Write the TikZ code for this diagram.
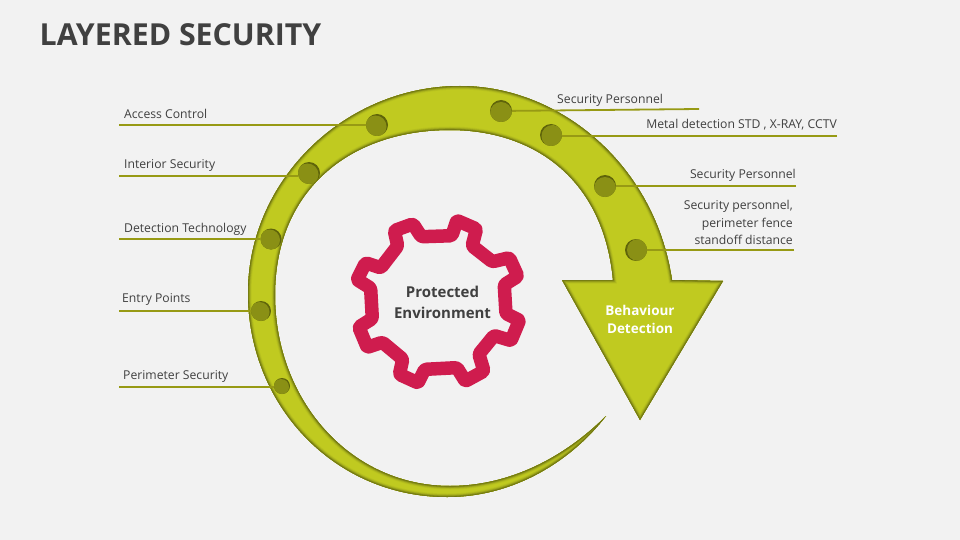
\documentclass[tikz,border=0pt]{standalone}
\usepackage{fontspec}
\setmainfont{Open Sans}
\definecolor{bgc}{HTML}{F2F2F2}
\definecolor{ringc}{HTML}{C0CA20}
\definecolor{linec}{HTML}{979A14}
\definecolor{gearc}{HTML}{CF1C4E}
\definecolor{txtc}{HTML}{404040}
\definecolor{holec}{HTML}{8A9015}
\definecolor{holed}{HTML}{5F640A}
\tikzset{
  lab/.style={inner sep=0pt,text=txtc,font=\fontsize{12.2}{17.5}\selectfont},
  link/.style={draw=linec,line width=1.8pt},
  hole/.style n args={3}{circle,inner sep=0pt,minimum size=#1*2pt,fill=holed,
    path picture={\fill[holec] ([shift={(#2pt,#3pt)}]path picture bounding box.center) circle (#1pt);}},
  gearline/.style={draw=gearc,line width=13.5pt,line join=round,rounded corners=1.5pt}
}
\newcommand{\ringshape}{(606,416)
 .. controls (572,460) and (515,497) .. (447,497)
 .. controls (335,497) and (248,406) .. (248,293)
 .. controls (248,180) and (345,86) .. (460,86)
 .. controls (560,86) and (655,165) .. (672,280)
 -- (723,281) -- (640,420) -- (562,280) -- (613,280)
 .. controls (603,175) and (530,130) .. (450,130)
 .. controls (350,130) and (275,190) .. (275,295)
 .. controls (275,400) and (350,486) .. (450,486)
 .. controls (510,486) and (565,457) .. (606,416) -- cycle}
\begin{document}
\begin{tikzpicture}[x=1pt,y=-1pt]
\useasboundingbox (0,0) rectangle (960,540);
\fill[bgc] (0,0) rectangle (960,540);
\node[anchor=west,inner sep=0pt,text=txtc,font=\fontsize{30.3}{36}\selectfont\bfseries] (title) at (39.5,35) {LAYERED SECURITY};
% ring and arrow
\begin{scope}
  \clip \ringshape;
  \fill[ringc] \ringshape;
  \draw[line width=7pt,draw=ringc!96!black] \ringshape;
  \draw[line width=5.5pt,draw=ringc!90!black] \ringshape;
  \draw[line width=4pt,draw=ringc!81!black] \ringshape;
  \draw[line width=2.6pt,draw=ringc!70!black] \ringshape;
  \draw[line width=1.2pt,draw=ringc!58!black] \ringshape;
\end{scope}
% holes
\node[hole={11}{-1.5}{-1.5}] (d1) at (377,125) {};
\node[hole={11}{-1.5}{-1.5}] (d2) at (309,173) {};
\node[hole={10.5}{-1.5}{-1}] (d3) at (271,239) {};
\node[hole={10}{-1.5}{-1}] (d4) at (261,311) {};
\node[hole={8}{-1}{-1}] (d5) at (282,386) {};
\node[hole={11}{0}{-2}] (d6) at (501,111) {};
\node[hole={11}{1.5}{-1}] (d7) at (551,135) {};
\node[hole={11}{0}{-2}] (d8) at (605,186) {};
\node[hole={11}{2}{0}] (d9) at (636,250) {};
% free ends
\coordinate (e1) at (119,125);
\coordinate (e2) at (119,176);
\coordinate (e3) at (119,239);
\coordinate (e4) at (119,311);
\coordinate (e5) at (119,387);
\coordinate (e6) at (699,109);
\coordinate (e7) at (837,136);
\coordinate (e8) at (796,186);
\coordinate (e9) at (794,250);
\draw[link] (e1) -- (e1 -| d1.west);
\draw[link] (e2) -- (e2 -| d2.west);
\draw[link] (e3) -- (e3 -| d3.west);
\draw[link] (e4) -- (e4 -| d4.west);
\draw[link] (e5) -- (e5 -| d5.west);
\draw[link] (d6) -- (e6);
\draw[link] (e7) -- (e7 -| d7.east);
\draw[link] (e8) -- (e8 -| d8.east);
\draw[link] (e9) -- (e9 -| d9.east);
% labels
\node[lab,anchor=west] (l1) at (124,114) {Access Control};
\node[lab,anchor=west] (l2) at (124,165.5) {Interior Security};
\node[lab,anchor=west] (l3) at (124,229.5) {Detection Technology};
\node[lab,anchor=west] (l4) at (122,299.5) {Entry Points};
\node[lab,anchor=west] (l5) at (123,376.5) {Perimeter Security};
\node[lab,anchor=west] (l6) at (557,100) {Security Personnel};
\node[lab,anchor=east] (l7) at (837,125) {Metal detection STD , X-RAY, CCTV};
\node[lab,anchor=east] (l8) at (796,175) {Security Personnel};
\node[lab,anchor=east,align=right] (l9) at (793,222.5) {Security personnel,\\perimeter fence\\standoff distance};
\node[inner sep=0pt,align=center,text=white,font=\fontsize{13.5}{18.5}\selectfont\bfseries] (head) at (640,319.5) {Behaviour\\Detection};
% gear
\begin{scope}[shift={(438.3,301.7)},scale=1.015,shift={(-98.33,-96.67)},x=0.3333pt,y=-0.3333pt]
\draw[gearline] (245,98) -- (335,95) -- (350,50) -- (408,75) -- (395,125) -- (455,172) -- (505,160) -- (530,215) -- (490,240) -- (495,325) -- (535,345) -- (510,405) -- (460,390) -- (415,445) -- (430,495) -- (375,525) -- (350,485) -- (255,490) -- (235,530) -- (180,505) -- (190,460) -- (130,410) -- (85,425) -- (60,365) -- (100,340) -- (95,250) -- (55,225) -- (80,175) -- (125,190) -- (175,125) -- (165,80) -- (220,60) -- cycle;
\end{scope}
\node[inner sep=0pt,align=center,text=txtc,font=\fontsize{15}{21}\selectfont\bfseries] (core) at (442.5,302) {Protected\\Environment};
\end{tikzpicture}
\end{document}
